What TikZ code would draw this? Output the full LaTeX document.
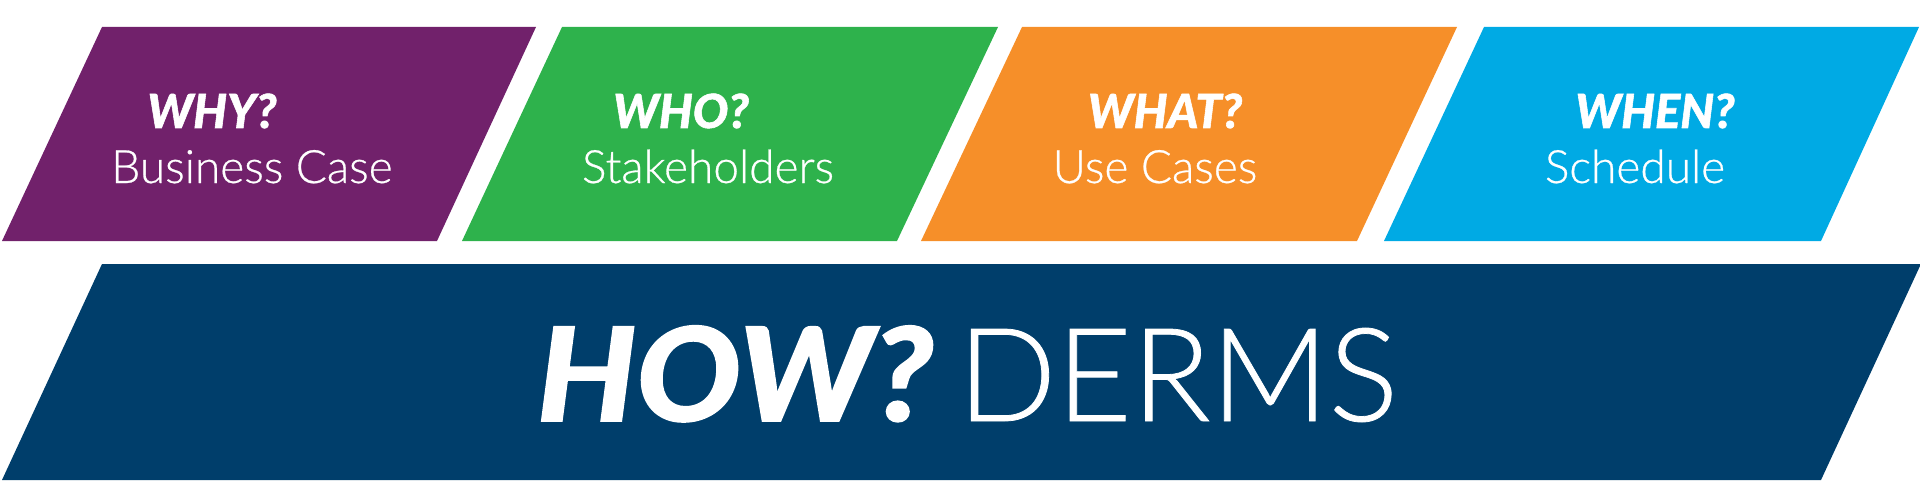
\documentclass[tikz,border=0pt]{standalone}
\usepackage{fontspec}
\newfontfamily\heavyfont{Lato Black Italic}[FakeBold=1.2]
\newfontfamily\lightfont{Lato Light}[FakeBold=0.6]
\definecolor{cpurple}{HTML}{71216B}
\definecolor{cgreen}{HTML}{2EB24C}
\definecolor{corange}{HTML}{F68F29}
\definecolor{cblue}{HTML}{00AAE4}
\definecolor{cnavy}{HTML}{003E6B}
\tikzset{
  qtext/.style={anchor=base, text=white, inner sep=0pt, font=\heavyfont\fontsize{47}{50}\selectfont},
  atext/.style={anchor=base, text=white, inner sep=0pt, font=\lightfont\fontsize{46}{50}\selectfont},
  bigq/.style={anchor=base, text=white, inner sep=0pt, xscale=1.06, font=\heavyfont\fontsize{130}{140}\selectfont},
  biga/.style={anchor=base, text=white, inner sep=0pt, font=\lightfont\fontsize{130}{140}\selectfont},
}
\begin{document}
\begin{tikzpicture}[x=1pt,y=-1pt]
\useasboundingbox (0,0) rectangle (1920,500);
% top row parallelograms
\fill[cpurple] (102,27) -- (536,27) -- (437,241) -- (2,241) -- cycle;
\fill[cgreen]  (562,27) -- (998,27) -- (897,241) -- (462,241) -- cycle;
\fill[corange] (1022,27) -- (1457,27) -- (1357,241) -- (921,241) -- cycle;
\fill[cblue]   (1484,27) -- (1919,27) -- (1821,241) -- (1384,241) -- cycle;
% big parallelogram
\fill[cnavy] (102,264) -- (1920,264) -- (1920,266) -- (1821,480) -- (2,480) -- cycle;
% texts
\node[qtext] (why)  at (212,128) {WHY?};
\node[atext] (bc)   at (252,183) {Business Case};
\node[qtext] (who)  at (681,128) {WHO?};
\node[atext] (sh)   at (708,183) {Stakeholders};
\node[qtext] (what) at (1165,128) {WHAT?};
\node[atext] (uc)   at (1155,183) {Use Cases};
\node[qtext] (when) at (1655,128) {WHEN?};
\node[atext] (sc)   at (1635,183) {Schedule};
\node[bigq] (how)   at (735,421) {HOW?};
\node[biga] (derms) at (1178,421) {DERMS};
\end{tikzpicture}
\end{document}
